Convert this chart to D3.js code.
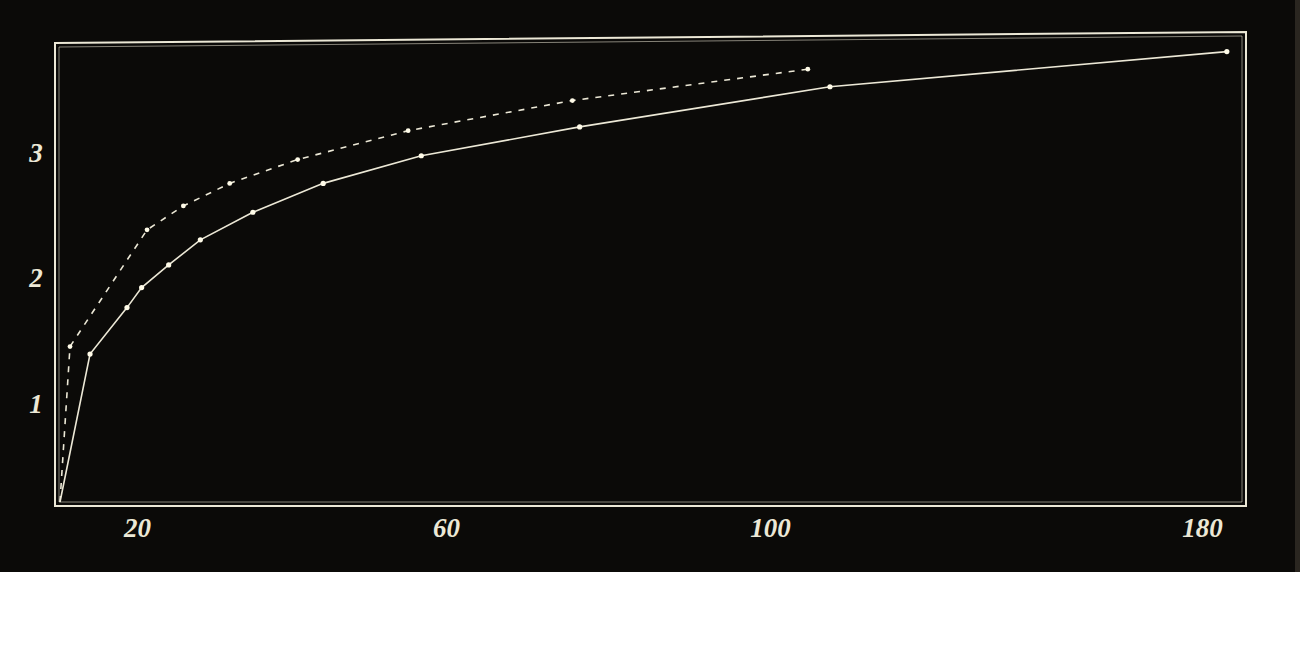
<!DOCTYPE html>
<html>
<head>
<meta charset="utf-8">
<script src="https://cdn.jsdelivr.net/npm/d3@7/dist/d3.min.js"></script>
<style>
  html, body { margin: 0; padding: 0; background: #ffffff; }
  svg { display: block; }
</style>
</head>
<body>
<svg id="chart" width="1300" height="663"></svg>
<script>
// ---- data ----
const xTickValues = [20, 60, 100, 180];
const yTickValues = [1, 2, 3];

const solidX = [0, 7.8, 17.4, 20.6, 24.1, 28.2, 35.0, 44.1, 56.8, 76.5, 111.1, 184.6];
const solidY = [0, 1.39, 1.76, 1.92, 2.10, 2.30, 2.52, 2.75, 2.97, 3.20, 3.52, 3.80];

const dashedX = [0, 2.6, 21.3, 26.0, 32.0, 40.8, 55.1, 75.6, 107.0];
const dashedY = [0, 1.45, 2.38, 2.57, 2.75, 2.94, 3.17, 3.41, 3.66];

// ---- layout ----
const W = 1300, H = 663;
const plateH = 572;
const ink = "#ece8d6";
const bg = "#0b0a08";

const frame = { left: 55, right: 1246, topL: 43, topR: 32, bottom: 506 };

const svg = d3.select("#chart");

svg.append("rect").attr("x", 0).attr("y", 0).attr("width", W).attr("height", H).attr("fill", "#ffffff");
svg.append("rect").attr("x", 0).attr("y", 0).attr("width", W).attr("height", plateH).attr("fill", bg);
svg.append("rect").attr("x", W - 5).attr("y", 0).attr("width", 5).attr("height", plateH).attr("fill", "#2a2620");

// engraved scales: knots follow the printed labels
const x = d3.scaleLinear()
  .domain([0, 20, 60, 100, 180])
  .range([60, 137, 446, 770, 1202]);
const y = d3.scaleLinear()
  .domain([0, 1, 3])
  .range([502, 403, 152]);

// frame (double rule)
function framePath(o) {
  return "M" + (frame.left + o) + "," + (frame.topL + o) +
         "L" + (frame.right - o) + "," + (frame.topR + o) +
         "L" + (frame.right - o) + "," + (frame.bottom - o) +
         "L" + (frame.left + o) + "," + (frame.bottom - o) + "Z";
}
svg.append("path").attr("d", framePath(0)).attr("fill", "none").attr("stroke", ink).attr("stroke-width", 2);
svg.append("path").attr("d", framePath(4)).attr("fill", "none").attr("stroke", ink).attr("stroke-opacity", 0.55).attr("stroke-width", 1);

// axes (labels only)
const fontFam = "'Liberation Serif', 'DejaVu Serif', serif";
const xAxis = svg.append("g")
  .attr("transform", "translate(0," + 528 + ")")
  .call(d3.axisBottom(x).tickValues(xTickValues).tickSize(0).tickFormat(d3.format("d")));
xAxis.select(".domain").remove();
xAxis.selectAll("text")
  .attr("dy", "0.35em").attr("y", 0)
  .attr("fill", ink)
  .style("font-family", fontFam).style("font-style", "italic").style("font-weight", "bold")
  .style("font-size", "27px");

const yAxis = svg.append("g")
  .attr("transform", "translate(" + 36 + ",0)")
  .call(d3.axisLeft(y).tickValues(yTickValues).tickSize(0).tickFormat(d3.format("d")));
yAxis.select(".domain").remove();
yAxis.selectAll("text")
  .attr("x", 0).attr("dy", "0.35em")
  .attr("text-anchor", "middle")
  .attr("fill", ink)
  .style("font-family", fontFam).style("font-style", "italic").style("font-weight", "bold")
  .style("font-size", "27px");

// series
const solid = solidX.map((v, i) => [v, solidY[i]]);
const dashed = dashedX.map((v, i) => [v, dashedY[i]]);
const line = d3.line().x(d => x(d[0])).y(d => y(d[1]));

svg.append("path").datum(dashed).attr("d", line)
  .attr("fill", "none").attr("stroke", ink).attr("stroke-width", 1.6)
  .attr("stroke-dasharray", "6,7");
svg.append("path").datum(solid).attr("d", line)
  .attr("fill", "none").attr("stroke", ink).attr("stroke-width", 1.6);

svg.append("g").selectAll("circle").data(solid.slice(1)).join("circle")
  .attr("cx", d => x(d[0])).attr("cy", d => y(d[1])).attr("r", 2.6).attr("fill", "#fffbe8");
svg.append("g").selectAll("circle").data(dashed.slice(1)).join("circle")
  .attr("cx", d => x(d[0])).attr("cy", d => y(d[1])).attr("r", 2.4).attr("fill", "#fffbe8");
</script>
</body>
</html>
